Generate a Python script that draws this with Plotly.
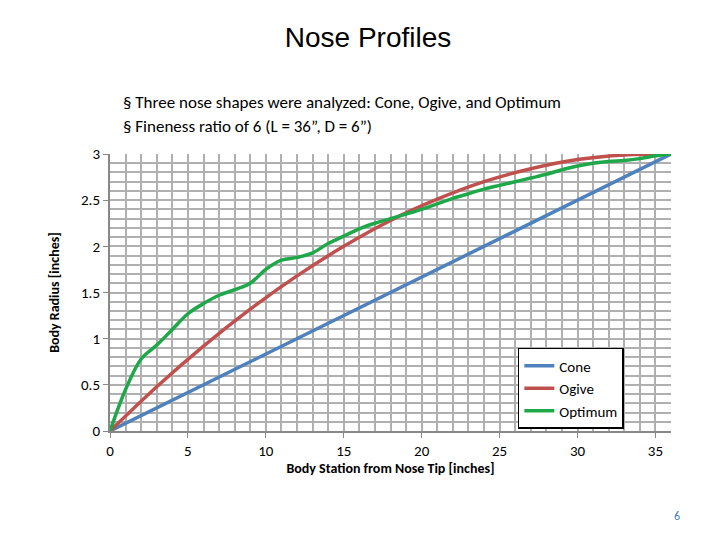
import plotly.graph_objects as go

cone_x = [0, 36]
cone_y = [0, 3]

ogive_x = [0, 3, 6, 9, 12, 15, 18, 21, 24, 27, 30, 33, 36]
ogive_y = [0, 0.48, 0.92, 1.32, 1.68, 2.0, 2.28, 2.51, 2.7, 2.84, 2.94, 2.99, 3.0]

opt_x = list(range(0, 37))
opt_y = [0, 0.45, 0.78, 0.93, 1.1, 1.27, 1.38, 1.47, 1.53, 1.6, 1.75, 1.85, 1.88,
         1.93, 2.03, 2.11, 2.19, 2.25, 2.3, 2.35, 2.4, 2.46, 2.52, 2.57, 2.62,
         2.66, 2.7, 2.74, 2.78, 2.83, 2.87, 2.9, 2.92, 2.93, 2.95, 2.98, 3.0]

y_ticks = [0, 0.5, 1, 1.5, 2, 2.5, 3]
y_labels = ["0", "0.5", "1", "1.5", "2", "2.5", "3"]

FONT = "Carlito, Calibri, Liberation Sans, sans-serif"

fig = go.Figure()
fig.add_trace(go.Scatter(x=cone_x, y=cone_y, mode="lines", name="Cone",
                         line=dict(color="#4f81bd", width=3.5)))
fig.add_trace(go.Scatter(x=ogive_x, y=ogive_y, mode="lines", name="Ogive",
                         line=dict(color="#c0504d", width=3.5, shape="spline")))
fig.add_trace(go.Scatter(x=opt_x, y=opt_y, mode="lines", name="Optimum",
                         line=dict(color="#1fa84a", width=3.5, shape="spline")))

grid = "#b0b0b0"
fig.update_layout(
    width=720, height=540, plot_bgcolor="white", paper_bgcolor="white",
    margin=dict(l=102, r=57, t=146, b=117),
    font=dict(family=FONT, size=14, color="black"),
    title=dict(text="Nose Profiles", x=0.5, y=0.965, xanchor="center",
               font=dict(family="Liberation Sans, Arial", size=28)),
    legend=dict(x=0.727, y=0.3, xanchor="left", yanchor="top",
                bordercolor="black", borderwidth=1.5, bgcolor="white",
                font=dict(size=15), tracegroupgap=0),
    xaxis=dict(range=[0, 36], tickvals=[0, 5, 10, 15, 20, 25, 30, 35],
               showgrid=True, gridcolor=grid, gridwidth=2,
               minor=dict(dtick=1, showgrid=True, gridcolor=grid, gridwidth=2),
               showline=True, linecolor="#888", linewidth=2,
               ticks="outside", ticklen=5, tickcolor="#888",
               title=dict(text="<b>Body Station from Nose Tip [inches]</b>",
                          font=dict(size=14), standoff=4),
               zeroline=False, tickfont=dict(size=15)),
    yaxis=dict(range=[0, 3], tickvals=y_ticks, ticktext=y_labels,
               showgrid=True, gridcolor=grid, gridwidth=2,
               minor=dict(dtick=0.1, showgrid=True, gridcolor=grid, gridwidth=2),
               showline=True, linecolor="#888", linewidth=2,
               ticks="outside", ticklen=5, tickcolor="#888",
               title=dict(text="<b>Body Radius [inches]</b>", font=dict(size=14),
                          standoff=18),
               zeroline=False, tickfont=dict(size=15)),
)

fig.add_annotation(text="§ Three nose shapes were analyzed: Cone, Ogive, and Optimum",
                   xref="paper", yref="paper", x=0.02, y=1.23, xanchor="left",
                   showarrow=False, font=dict(size=17))
fig.add_annotation(text="§ Fineness ratio of 6 (L = 36\u201d, D = 6\u201d)",
                   xref="paper", yref="paper", x=0.02, y=1.145, xanchor="left",
                   showarrow=False, font=dict(size=17))
fig.add_annotation(text="6", xref="paper", yref="paper", x=1.02, y=-0.34,
                   showarrow=False, font=dict(size=12, color="#4f81bd"))

fig.write_html("out.html")
